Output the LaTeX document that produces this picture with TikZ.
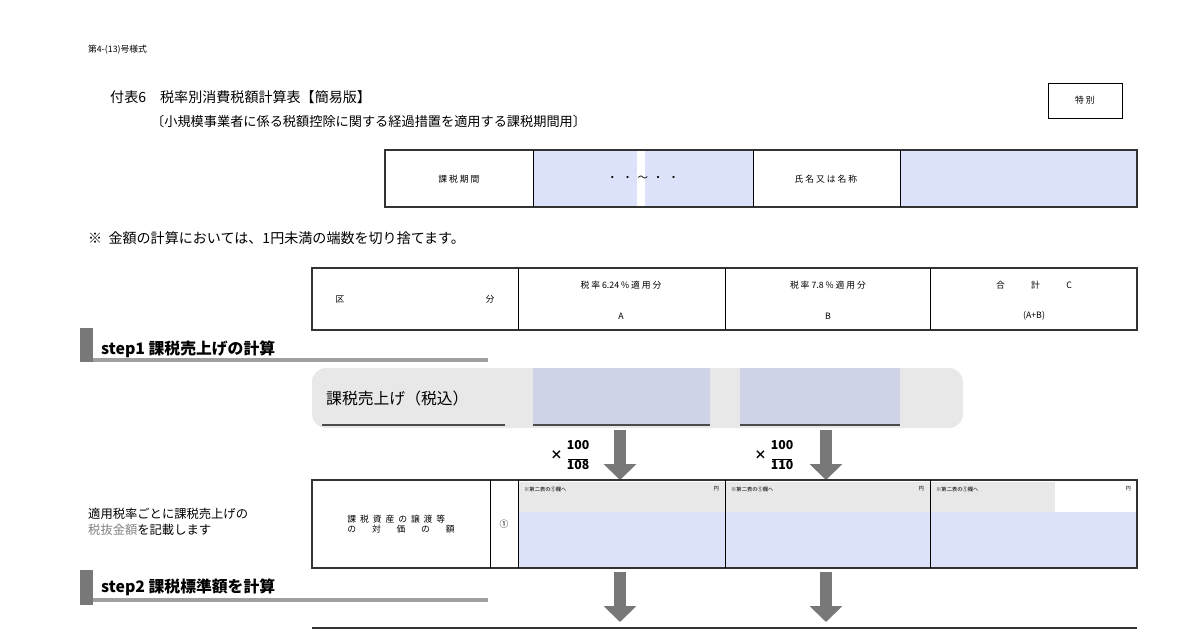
\documentclass[tikz,border=0pt]{standalone}
\usepackage{fontspec}
\newfontfamily\cjk{Noto Sans CJK JP}
\usetikzlibrary{arrows.meta, positioning}
\definecolor{cellblue}{RGB}{220,226,250}
\definecolor{bandgray}{RGB}{232,232,232}
\definecolor{arrowgray}{RGB}{120,120,120}

\begin{document}
\begin{tikzpicture}[
    x=0.02cm, y=-0.02cm,
    every node/.style={font=\cjk},
    cell/.style={draw=black, line width=0.5pt},
    thick cell/.style={draw=black!80, line width=1.2pt},
    small/.style={font=\cjk\fontsize{5}{6}\selectfont},
    label/.style={font=\cjk\fontsize{6}{8}\selectfont},
    ratio/.style={font=\cjk\bfseries\fontsize{7}{8}\selectfont, align=center, inner sep=1pt},
    steptext/.style={font=\cjk\bfseries\fontsize{9}{10}\selectfont, anchor=west},
    fat arrow/.style={draw=none, fill=arrowgray, -{Triangle[length=9pt, width=18pt]}, line width=7pt, shorten >=0pt}
]
    \useasboundingbox (0,0) rectangle (1200,629);

    % header lines
    \node[small, anchor=west] (form) at (82,50) {第4-(13)号様式};
    \node[font=\cjk\fontsize{8}{10}\selectfont, anchor=west] (title) at (104,97) {付表6\quad 税率別消費税額計算表【簡易版】};
    \node[font=\cjk\fontsize{7.5}{9}\selectfont, anchor=west] (subtitle) at (145,121) {〔小規模事業者に係る税額控除に関する経過措置を適用する課税期間用〕};
    \draw[cell] (1048,83) rectangle (1122,118);
    \node[small] (special) at (1085,100) {特\ 別};

    % period table
    \fill[cellblue] (533,150) rectangle (753,207);
    \fill[white] (637,150) rectangle (645,207);
    \fill[cellblue] (900,150) rectangle (1137,207);
    \draw[thick cell] (385,150) rectangle (1137,207);
    \foreach \x in {533,753,900} \draw[cell] (\x,150) -- (\x,207);
    \node[small] (period) at (459,179) {課\ 税\ 期\ 間};
    \node[label] (dates) at (643,179) {・\ \ ・\ \ ～\ \ ・\ \ ・};
    \node[small] (name) at (826,179) {氏\ 名\ 又\ は\ 名\ 称};

    \node[font=\cjk\fontsize{8}{10}\selectfont, anchor=west] (note) at (82,238) {※\ \ 金額の計算においては、1円未満の端数を切り捨てます。};

    % column header
    \draw[thick cell] (312,268) rectangle (1137,330);
    \foreach \x in {518,725,930} \draw[cell] (\x,268) -- (\x,330);
    \node[small] (kubun1) at (340,299) {区};
    \node[small] (kubun2) at (490,299) {分};
    \node[small] (colA) at (621,285) {税\ 率\ 6.24\ \%\ 適\ 用\ 分};
    \node[small] at (621,316) {A};
    \node[small] (colB) at (828,285) {税\ 率\ 7.8\ \%\ 適\ 用\ 分};
    \node[small] at (828,316) {B};
    \node[small] (colC) at (1034,285) {合\hspace{3em}計\hspace{3em}C};
    \node[small] at (1034,316) {(A+B)};

    % step1
    \fill[arrowgray] (80,328) rectangle (93,362);
    \draw[arrowgray!70, line width=2pt] (93,360) -- (488,360);
    \node[steptext] (step1) at (95,349) {step1 課税売上げの計算};

    \fill[bandgray, rounded corners=8pt] (312,368) rectangle (963,428);
    \fill[cellblue!85!gray] (533,368) rectangle (710,425);
    \fill[cellblue!85!gray] (740,368) rectangle (900,425);
    \draw[black!70, line width=1.2pt] (322,425) -- (505,425);
    \draw[black!70, line width=1.2pt] (533,425) -- (710,425);
    \draw[black!70, line width=1.2pt] (740,425) -- (900,425);
    \node[font=\cjk\fontsize{9}{11}\selectfont, anchor=west] (sales) at (320,398) {課税売上げ（税込）};

    \node[ratio] (rateA) at (578,455) {100\\[-2pt]\rule{1.6em}{0.6pt}\\[-3pt]108};
    \node[ratio, left=0pt of rateA] (timesA) {×};
    \node[ratio] (rateB) at (782,455) {100\\[-2pt]\rule{1.6em}{0.6pt}\\[-3pt]110};
    \node[ratio, left=0pt of rateB] (timesB) {×};
    \coordinate (a1) at (620,430); \coordinate (a2) at (620,480);
    \coordinate (b1) at (826,430); \coordinate (b2) at (826,480);
    \draw[fat arrow, draw=arrowgray] (a1) -- (a2);
    \draw[fat arrow, draw=arrowgray] (b1) -- (b2);

    % row 1
    \foreach \x/\w in {518/725,725/930,930/1137} {
        \fill[cellblue] (\x,512) rectangle (\w,568);
        \fill[bandgray] (\x,482) rectangle (\w,512);
    }
    \fill[white] (1055,482) rectangle (1137,512);
    \draw[thick cell] (312,480) rectangle (1137,568);
    \foreach \x in {490,518,725,930} \draw[cell] (\x,480) -- (\x,568);
    \foreach \x/\w in {518/725,725/930,930/1137} {
        \node[font=\cjk\fontsize{3}{4}\selectfont, anchor=west] at (\x,489) {※第二表の⑤欄へ};
        \node[font=\cjk\fontsize{3}{4}\selectfont, anchor=east] at (\w,489) {円};
    }
    \node[small, align=left] (item1) at (401,524) {課\ \ 税\ \ 資\ \ 産\ \ の\ \ 譲\ \ 渡\ \ 等\\の\hspace{1.8em}対\hspace{1.8em}価\hspace{1.8em}の\hspace{1.8em}額};
    \node[small] (num1) at (504,524) {①};
    \node[font=\cjk\fontsize{7}{9}\selectfont, anchor=west, align=left] (hint) at (82,522) {適用税率ごとに課税売上げの\\{\color{gray}税抜金額}を記載します};

    % step2
    \fill[arrowgray] (80,570) rectangle (93,605);
    \draw[arrowgray!70, line width=2pt] (93,600) -- (488,600);
    \node[steptext] (step2) at (95,587) {step2 課税標準額を計算};
    \coordinate (c1) at (620,572); \coordinate (c2) at (620,622);
    \coordinate (d1) at (826,572); \coordinate (d2) at (826,622);
    \draw[fat arrow, draw=arrowgray] (c1) -- (c2);
    \draw[fat arrow, draw=arrowgray] (d1) -- (d2);
    \draw[black!80, line width=1.2pt] (312,628) -- (1137,628);
\end{tikzpicture}
\end{document}
